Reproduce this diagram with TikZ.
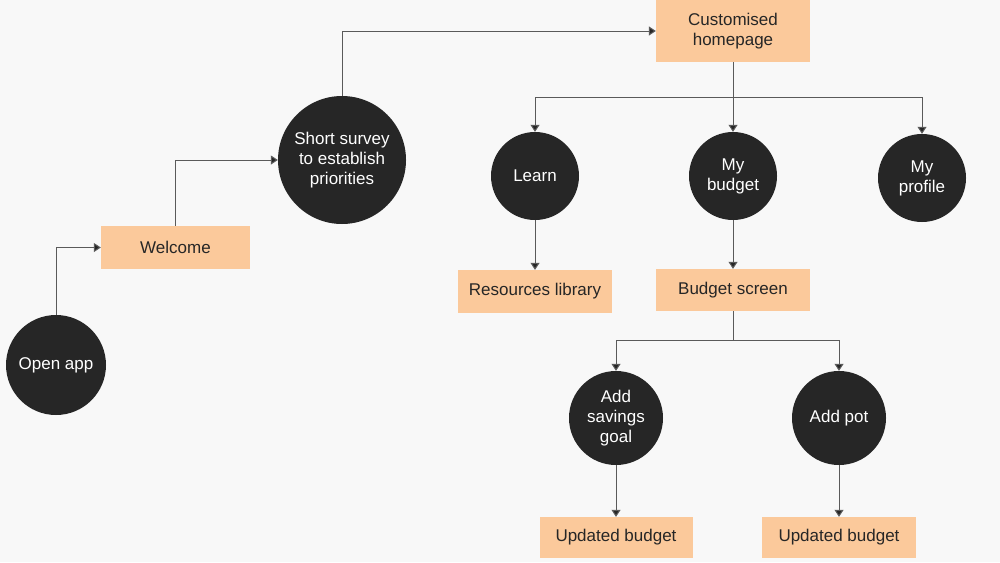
\documentclass[tikz,border=0pt]{standalone}
\usepackage{fontspec}
\setmainfont{Liberation Sans}
\usetikzlibrary{arrows.meta}

\definecolor{pagebg}{HTML}{F8F8F8}
\definecolor{stepdark}{HTML}{262626}
\definecolor{peach}{HTML}{FBC99B}
\definecolor{wire}{HTML}{5A5A5A}

\tikzset{
  screen/.style={circle, fill=stepdark, text=white, inner sep=0pt, align=center,
    font=\fontsize{17}{20}\selectfont},
  page/.style={rectangle, fill=peach, text=black!85, inner sep=0pt, align=center,
    font=\fontsize{17}{20}\selectfont},
  link/.style={draw=wire, line width=1pt, -{Triangle[length=7pt, width=9pt, fill=stepdark]}}
}

\begin{document}
\begin{tikzpicture}[x=1pt, y=-1pt]
\fill[pagebg] (0,0) rectangle (1000,562);
\useasboundingbox (0,0) rectangle (1000,562);
% left-hand chain
\node[screen, minimum size=100pt] (open) at (56,365) {Open app};
\node[page, minimum width=149pt, minimum height=43pt] (welcome) at (175.5,247.5) {Welcome};
\node[screen, minimum size=128pt] (survey) at (342,160) {Short survey\\to establish\\priorities};
\node[page, minimum width=154pt, minimum height=62pt] (home) at (733,31) {Customised\\homepage};
% second row
\node[screen, minimum size=88pt] (learn) at (535,176) {Learn};
\node[screen, minimum size=88pt] (budget) at (733,176) {My\\budget};
\node[screen, minimum size=88pt] (profile) at (922,178) {My\\profile};
\node[page, minimum width=154pt, minimum height=43pt] (library) at (535,291.5) {Resources library};
\node[page, minimum width=154pt, minimum height=42pt] (bscreen) at (733,290) {Budget screen};
% budget screen children
\node[screen, minimum size=94pt] (savings) at (616,418) {Add\\savings\\goal};
\node[screen, minimum size=94pt] (pot) at (839,418) {Add pot};
\node[page, minimum width=153pt, minimum height=41pt] (updA) at (616,537.5) {Updated budget};
\node[page, minimum width=154pt, minimum height=41pt] (updB) at (839,537.5) {Updated budget};
% branch points
\coordinate (homesplit) at (733,97);
\coordinate (budgetsplit) at (733,340);
% connectors
\draw[link] (open.north) |- (welcome.west);
\draw[link] (welcome.north) |- (survey.west);
\draw[link] (survey.north) |- (home.west);
\draw[link] (home.south) -- (budget.north);
\draw[link] (homesplit) -| (learn.north);
\draw[link] (homesplit) -| (profile.north);
\draw[link] (learn.south) -- (library.north);
\draw[link] (budget.south) -- (bscreen.north);
\draw[wire, line width=1pt] (bscreen.south) -- (budgetsplit);
\draw[link] (budgetsplit) -| (savings.north);
\draw[link] (budgetsplit) -| (pot.north);
\draw[link] (savings.south) -- (updA.north);
\draw[link] (pot.south) -- (updB.north);
\end{tikzpicture}
\end{document}
